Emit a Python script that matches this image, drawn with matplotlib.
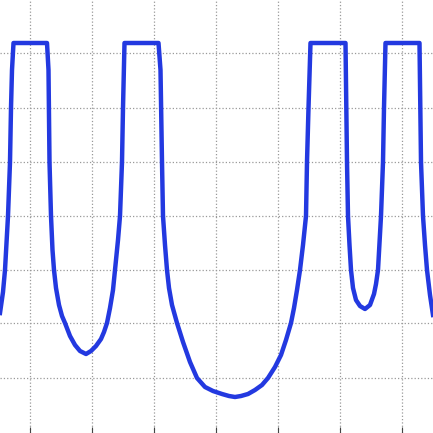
import numpy as np
import matplotlib.pyplot as plt

xs = [0, 3, 5, 8, 10, 11, 12, 13.5, 47,
      48.5, 49.5, 51, 52.5, 54, 56, 59, 62, 65, 70, 75, 80, 86, 91, 96, 101, 104, 107, 110, 113, 115, 118, 120, 122, 123, 124.5,
      158.5, 160.5, 162, 163, 165, 167, 169, 172, 177, 183, 190, 197, 205, 213, 222, 229, 235, 241, 248, 255, 262,
      268, 275, 281, 286, 291, 294, 297, 300, 303, 306, 307, 308.5, 310.5,
      345.5, 347, 348, 349.5, 351, 353, 356, 360, 365, 370, 374, 376, 378, 381, 383, 384, 385.5,
      419.5, 421, 423, 425, 427, 430, 433]
ys = [313, 292, 270, 216, 162, 108, 70, 43, 43,
      70, 162, 216, 250, 270, 288, 305, 316, 323, 336, 345, 351, 354, 351, 346, 339, 332, 323, 308, 290, 270, 240, 216, 162, 108, 43,
      43, 70, 162, 216, 245, 270, 288, 305, 323, 342, 362, 378, 387, 391, 394, 396, 397, 396, 394, 390, 385,
      378, 367, 355, 340, 323, 308, 290, 270, 245, 216, 162, 108, 43,
      43, 162, 216, 245, 270, 288, 300, 306, 309, 305, 294, 284, 270, 216, 162, 108, 43,
      43, 162, 216, 245, 270, 295, 315]
xgrid = [30, 92, 154, 216, 278, 340, 402]
ygrid = [53, 108, 162, 216, 270, 323, 378]

fig = plt.figure(figsize=(4.33, 4.33), dpi=100)
ax = fig.add_axes([0, 0, 1, 1])
ax.plot(xs, ys, color='#2339e0', lw=3.2, solid_joinstyle='round')
ax.set_xlim(0, 433)
ax.set_ylim(433, 0)
ax.set_xticks(xgrid)
ax.set_yticks(ygrid)
ax.grid(True, linestyle=':', color='#999999', lw=0.9)
ax.tick_params(direction='in', length=4, labelbottom=False, labelleft=False,
               left=False, color='#444444')
for s in ax.spines.values():
    s.set_visible(False)
fig.savefig('out.png', dpi=100)
